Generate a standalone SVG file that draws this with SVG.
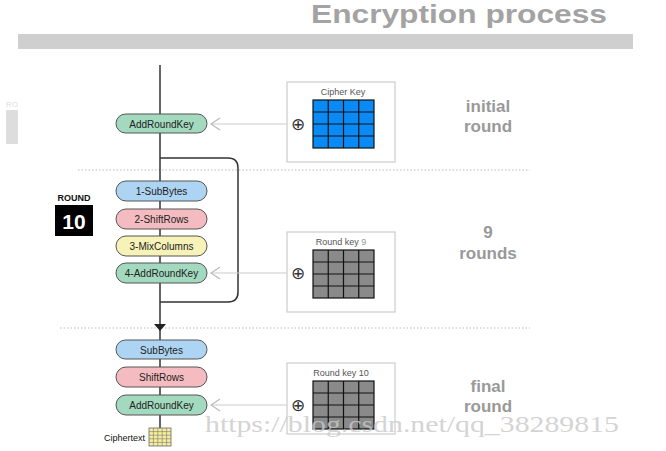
<svg xmlns="http://www.w3.org/2000/svg" width="666" height="451" viewBox="0 0 666 451">
<defs>
<style>
text{font-family:"Liberation Sans",Arial,sans-serif}
.pill{stroke:#555;stroke-width:1}
.pt{font-size:10px;fill:#222;text-anchor:middle}
.side{font-size:17px;fill:#999;font-weight:bold;text-anchor:middle}
.kbox{fill:#fff;stroke:#ccc;stroke-width:1.2}
.kt{font-size:9px;fill:#555;text-anchor:middle}
.op{font-size:17px;fill:#333;text-anchor:middle}
.dot{stroke:#bbb;stroke-width:1;stroke-dasharray:1.5 2}
.conn{stroke:#ccc;stroke-width:1.2;fill:none}
.wm{font-family:"Liberation Serif",serif;font-size:23px;fill:#c8c8c8;fill-opacity:0.8;text-anchor:middle}
</style>
<marker id="chev" markerWidth="12" markerHeight="14" refX="10" refY="7" orient="auto" markerUnits="userSpaceOnUse">
<path d="M1,1 L10,7 L1,13" fill="none" stroke="#bbb" stroke-width="1.2"/>
</marker>
</defs>
<rect width="666" height="451" fill="#fff"/>
<text x="459" y="23" font-size="26" font-weight="bold" fill="#a3a3a3" text-anchor="middle" textLength="296" lengthAdjust="spacingAndGlyphs">Encryption process</text>
<rect x="18" y="34" width="615" height="15" fill="#cfcfcf"/>
<rect x="6" y="110" width="12" height="34" fill="#ddd"/>
<text x="6" y="107" font-size="8" fill="#ddd">RO</text>
<line class="dot" x1="78" y1="170" x2="530" y2="170"/>
<line class="dot" x1="60" y1="328" x2="530" y2="328"/>
<g id="connectors">
<line x1="160" y1="65" x2="160" y2="430" stroke="#333" stroke-width="1.5"/>
<path d="M160,158 H228 Q238,158 238,168 V292 Q238,302 228,302 H160" fill="none" stroke="#333" stroke-width="1.5"/>
<path d="M154,324 L166,324 L160,331 Z" fill="#222"/>
<line class="conn" x1="287" y1="124" x2="211" y2="124" marker-end="url(#chev)"/>
<line class="conn" x1="287" y1="273" x2="211" y2="273" marker-end="url(#chev)"/>
<line class="conn" x1="287" y1="405" x2="211" y2="405" marker-end="url(#chev)"/>
</g>
<g id="ark0"><rect class="pill" x="116" y="114" width="91" height="19" rx="9.5" fill="#a3d9bf"/><text class="pt" x="161.5" y="127.5">AddRoundKey</text></g>
<g id="round10"><text x="74" y="201" font-size="9" font-weight="bold" fill="#111" text-anchor="middle">ROUND</text><rect x="55" y="205" width="38" height="31" fill="#000"/><text x="74" y="229" font-size="21" font-weight="bold" fill="#fff" text-anchor="middle">10</text></g>
<g id="sb1"><rect class="pill" x="116" y="181" width="91" height="20" rx="10" fill="#aed4f3"/><text class="pt" x="161.5" y="195">1-SubBytes</text></g>
<g id="sr1"><rect class="pill" x="116" y="209" width="91" height="20" rx="10" fill="#f4bcc0"/><text class="pt" x="161.5" y="223">2-ShiftRows</text></g>
<g id="mc1"><rect class="pill" x="116" y="236" width="91" height="20" rx="10" fill="#f6f2b8"/><text class="pt" x="161.5" y="250">3-MixColumns</text></g>
<g id="ark1"><rect class="pill" x="116" y="263" width="91" height="20" rx="10" fill="#a3d9bf"/><text class="pt" x="161.5" y="277">4-AddRoundKey</text></g>
<g id="sb2"><rect class="pill" x="116" y="340" width="91" height="19" rx="9.5" fill="#aed4f3"/><text class="pt" x="161.5" y="353.5">SubBytes</text></g>
<g id="sr2"><rect class="pill" x="116" y="367" width="91" height="20" rx="10" fill="#f4bcc0"/><text class="pt" x="161.5" y="381">ShiftRows</text></g>
<g id="ark2"><rect class="pill" x="116" y="395" width="91" height="20" rx="10" fill="#a3d9bf"/><text class="pt" x="161.5" y="409">AddRoundKey</text></g>
<g id="cipher"><text x="145" y="441" font-size="9" fill="#111" text-anchor="end">Ciphertext</text>
<rect x="149" y="428" width="22" height="18" fill="#f6ee9a" stroke="#666" stroke-width="0.8"/>
<path d="M153.4,428V446M157.8,428V446M162.2,428V446M166.6,428V446M149,431.6H171M149,435.2H171M149,438.8H171M149,442.4H171" stroke="#777" stroke-width="0.6"/></g>
<g id="key0"><rect class="kbox" x="287" y="82" width="108" height="80"/><text class="kt" x="343" y="95">Cipher Key</text><text class="op" x="298" y="130">⊕</text>
<rect x="313" y="100" width="61" height="48" fill="#0a8af5"/>
<path d="M328.25,100V148M343.5,100V148M358.75,100V148M313,112H374M313,124H374M313,136H374" stroke="#111" stroke-width="1.2"/><rect x="313" y="100" width="61" height="48" fill="none" stroke="#111" stroke-width="1.2"/></g>
<g id="key9"><rect class="kbox" x="287" y="232" width="108" height="80"/><text class="kt" x="341" y="245">Round key <tspan fill="#999">9</tspan></text><text class="op" x="298" y="279">⊕</text>
<rect x="313" y="250" width="61" height="48" fill="#8a8a8a"/>
<path d="M328.25,250V298M343.5,250V298M358.75,250V298M313,262H374M313,274H374M313,286H374" stroke="#111" stroke-width="1.2"/><rect x="313" y="250" width="61" height="48" fill="none" stroke="#111" stroke-width="1.2"/></g>
<g id="key10"><rect class="kbox" x="287" y="363" width="108" height="71"/><text class="kt" x="341" y="376">Round key 10</text><text class="op" x="298" y="411">⊕</text>
<rect x="313" y="381" width="61" height="48" fill="#8a8a8a"/>
<path d="M328.25,381V429M343.5,381V429M358.75,381V429M313,393H374M313,405H374M313,417H374" stroke="#111" stroke-width="1.2"/><rect x="313" y="381" width="61" height="48" fill="none" stroke="#111" stroke-width="1.2"/></g>
<text class="side" x="488" y="112">initial</text><text class="side" x="488" y="132">round</text>
<text class="side" x="488" y="238">9</text><text class="side" x="488" y="259">rounds</text>
<text class="side" x="488" y="392">final</text><text class="side" x="488" y="412">round</text>
<text class="wm" x="412" y="432" textLength="414" lengthAdjust="spacingAndGlyphs">https://blog.csdn.net/qq_38289815</text>
</svg>
